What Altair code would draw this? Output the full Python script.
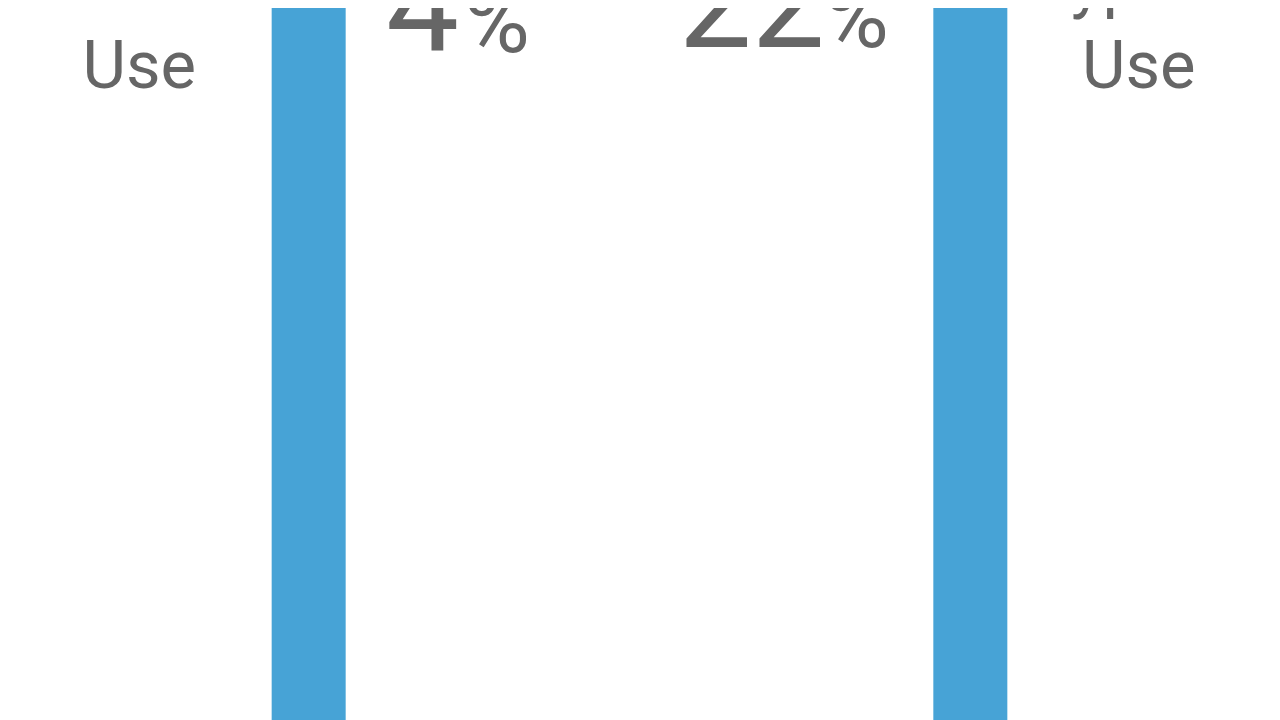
import altair as alt
import pandas as pd

# valores
metodos = ["Perfect Use", "Typical Use"]
tasas = [4, 22]
pista = [100, 100]  # barras azules a toda altura

# orden de las columnas de izquierda a derecha (espejo)
orden = ["Perfect Use|label", "Perfect Use|bar", "Perfect Use|rate", "hueco",
         "Typical Use|rate", "Typical Use|bar", "Typical Use|label"]

barras = pd.DataFrame({
    "slot": [m + "|bar" for m in metodos],
    "pista": pista,
})
etiquetas = pd.DataFrame({
    "metodo": metodos,
    "slot": [m + "|label" for m in metodos],
    "texto": [m.replace(" ", "\n") for m in metodos],
})
porcentajes = pd.DataFrame({
    "metodo": metodos,
    "slot": [m + "|rate" for m in metodos],
    "numero": [str(t) for t in tasas],
})

GRIS = "#666666"
x = alt.X("slot:N", sort=orden, axis=None,
          scale=alt.Scale(domain=orden, paddingInner=0.5526, paddingOuter=0.594))

capa_barras = alt.Chart(barras).mark_bar(color="#47a3d6").encode(
    x=x,
    y=alt.Y("pista:Q", scale=alt.Scale(domain=[0, 100]), axis=None),
)

# ajustes finos de cada lado (etiqueta, cifra, signo %)
ajustes = {
    "Perfect Use": dict(lbl=-4, num=-15, pct=-10, num_dy=42, pct_dy=44),
    "Typical Use": dict(lbl=3, num=20, pct=18, num_dy=39, pct_dy=39),
}

capas = [capa_barras]
for m in metodos:
    a = ajustes[m]
    capas.append(alt.Chart(etiquetas).transform_filter(alt.datum.metodo == m).mark_text(
        font="Roboto", fontSize=67, color=GRIS, lineBreak="\n", lineHeight=83,
        align="center", baseline="alphabetic", dx=a["lbl"], dy=-3
    ).encode(x=x, y=alt.value(0), text="texto:N"))
    pct = alt.Chart(porcentajes).transform_filter(alt.datum.metodo == m)
    capas.append(pct.mark_text(
        font="Roboto", fontSize=130, color=GRIS, align="right",
        baseline="alphabetic", dx=a["num"], dy=a["num_dy"]
    ).encode(x=x, y=alt.value(0), text="numero:N"))
    capas.append(pct.mark_text(
        font="Roboto", fontSize=90, color=GRIS, align="left",
        baseline="alphabetic", dx=a["pct"], dy=a["pct_dy"], text="%"
    ).encode(x=x, y=alt.value(0)))

chart = alt.layer(*capas).properties(
    width=1263, height=712, padding=0,
    autosize=alt.AutoSizeParams(type="none")
).configure_view(stroke=None)

chart.save("out.html", embed_options={"renderer": "svg", "actions": False})
